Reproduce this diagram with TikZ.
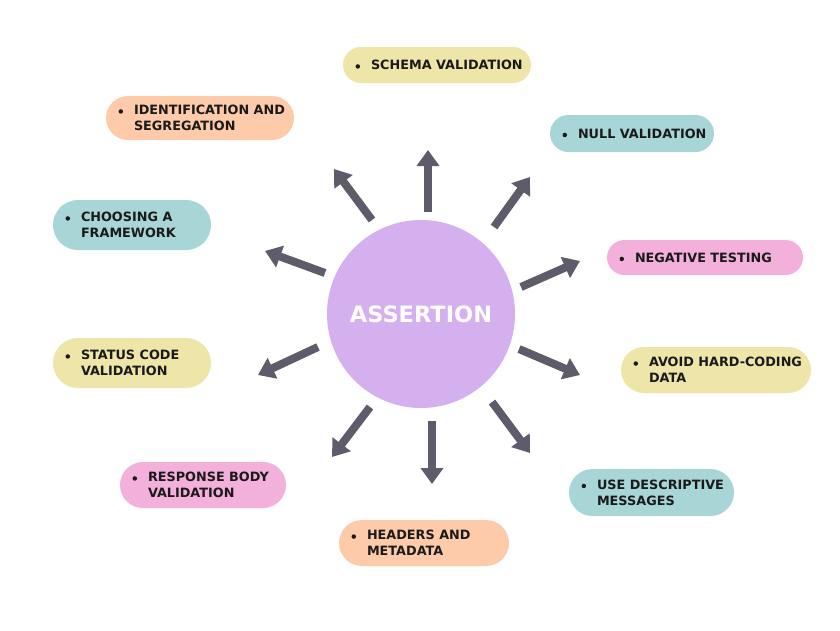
\documentclass[tikz,border=0pt]{standalone}
\usepackage{fontspec}
\setmainfont{DejaVu Sans}
\usetikzlibrary{arrows.meta}
\definecolor{pyellow}{HTML}{EEE5A9}
\definecolor{ppeach}{HTML}{FDCBA9}
\definecolor{pteal}{HTML}{A8D5D5}
\definecolor{ppink}{HTML}{F2B0DA}
\definecolor{cpurple}{HTML}{D4B0EE}
\definecolor{arrowc}{HTML}{5E5B6B}
\definecolor{txt}{HTML}{1A1A1A}
\tikzset{
  x=1pt,y=-1pt,
  pilltext/.style={anchor=west, inner sep=0pt, align=left, text=txt,
    font=\fontsize{12.8}{16}\selectfont\bfseries},
  bul/.style={circle, fill=txt, inner sep=0pt, minimum size=4.5pt},
  bigarrow/.style={draw=arrowc, line width=8pt, -{Triangle[width=22pt,length=16pt]}},
}
\newcommand{\mypill}[7]{%
  \path[fill=#6, rounded corners={min(#5-#3,#4-#2)/2}] (#2,#3) rectangle (#4,#5);
  \node[inner sep=0pt, minimum width={#4-#2}, minimum height={#5-#3}] (#1) at ({(#2+#4)/2},{(#3+#5)/2}) {};
  \node[pilltext] (#1t) at ([xshift=28pt]#1.west) {#7};
  \node[bul] (#1b) at ([xshift=-13pt,yshift=-6.5pt]#1t.north west) {};
}
\begin{document}
\begin{tikzpicture}
\useasboundingbox (0,0) rectangle (840,630);
\fill[white] (0,0) rectangle (840,630);
% centre
\node[circle, fill=cpurple, minimum size=188pt, inner sep=0pt, text=white,
  font=\fontsize{22.5}{26}\selectfont\bfseries] (c) at (421,314) {ASSERTION};
% pills
\mypill{schema}{343}{47}{531}{83}{pyellow}{SCHEMA VALIDATION}
\mypill{ident}{106}{96}{294}{140}{ppeach}{IDENTIFICATION AND\\SEGREGATION}
\mypill{null}{550}{115}{714}{152}{pteal}{NULL VALIDATION}
\mypill{frame}{53}{200}{211}{250}{pteal}{CHOOSING A\\FRAMEWORK}
\mypill{neg}{607}{240}{803}{275}{ppink}{NEGATIVE TESTING}
\mypill{status}{53}{338}{211}{388}{pyellow}{STATUS CODE\\VALIDATION}
\mypill{avoid}{621}{347}{811}{393}{pyellow}{AVOID HARD-CODING\\DATA}
\mypill{resp}{120}{462}{286}{508}{ppink}{RESPONSE BODY\\VALIDATION}
\mypill{desc}{569}{469}{734}{516}{pteal}{USE DESCRIPTIVE\\MESSAGES}
\mypill{head}{339}{520}{509}{566}{ppeach}{HEADERS AND\\METADATA}
% arrow end points
\coordinate (a1s) at (428,212); \coordinate (a1e) at (428,150);
\coordinate (a2s) at (372,220); \coordinate (a2e) at (334,169);
\coordinate (a3s) at (494,227); \coordinate (a3e) at (530,177);
\coordinate (a4s) at (325,273); \coordinate (a4e) at (265,251);
\coordinate (a5s) at (521,287); \coordinate (a5e) at (580,261);
\coordinate (a6s) at (318,347); \coordinate (a6e) at (258,375);
\coordinate (a7s) at (519,349); \coordinate (a7e) at (580,375);
\coordinate (a8s) at (370,407); \coordinate (a8e) at (332,457);
\coordinate (a9s) at (432,421); \coordinate (a9e) at (432,484);
\coordinate (a10s) at (492,402); \coordinate (a10e) at (530,453);
\foreach \i in {1,...,10} { \draw[bigarrow] (a\i s) -- (a\i e); }
\end{tikzpicture}
\end{document}
